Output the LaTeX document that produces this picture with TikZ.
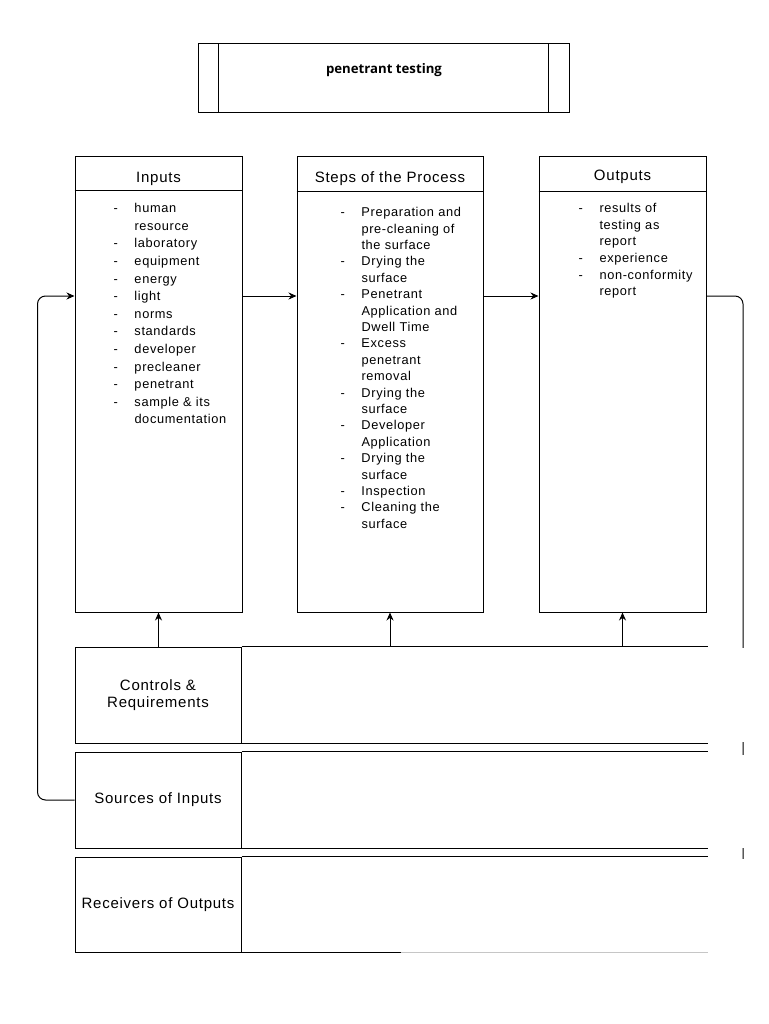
\documentclass[tikz,border=0pt]{standalone}
\usepackage{fontspec}
\setmainfont[LetterSpace=5]{Liberation Sans}
\newfontfamily\titlefont{Open Sans}
\usetikzlibrary{positioning,arrows.meta}
\newcommand{\idash}{\makebox[21pt][l]{-}}
\newcommand{\igap}{\hspace*{21pt}}

\begin{document}
\begin{tikzpicture}[x=1pt,y=-1pt,line width=1pt,>={Stealth[length=8pt,width=7pt]},
  column/.style={draw,minimum height=455pt,inner sep=0pt},
  head/.style={inner sep=0pt,font=\fontsize{15}{17}\selectfont},
  list/.style={anchor=north west,align=left,inner sep=0pt},
  lane/.style={draw,minimum width=166pt,minimum height=96pt,inner sep=2pt,align=center,font=\fontsize{15}{17}\selectfont}]
\useasboundingbox (0,0) rectangle (768,1024);

% title
\node[draw,minimum width=371pt,minimum height=69pt] (title) at (383.5,78.5) {};
\draw ([xshift=21pt]title.north west) -- ([xshift=21pt]title.south west);
\draw ([xshift=-21pt]title.north east) -- ([xshift=-21pt]title.south east);
\node[font=\titlefont\bfseries\fontsize{13.2}{15}\selectfont] (titletext) at (384,70.5) {penetrant testing};

% the three columns
\node[column,minimum width=167pt] (inp) at (158.5,384.5) {};
\node[column,minimum width=186pt] (steps) at (390,384.5) {};
\node[column,minimum width=167pt] (outp) at (622.5,384.5) {};
\draw ([yshift=-34pt]inp.north west) -- ([yshift=-34pt]inp.north east);
\draw ([yshift=-35pt]steps.north west) -- ([yshift=-35pt]steps.north east);
\draw ([yshift=-35pt]outp.north west) -- ([yshift=-35pt]outp.north east);
\node[head] (inphead) at (158.5,179) {Inputs};
\node[head] (stepshead) at (390,179) {Steps of the Process};
\node[head] (outphead) at (622.5,177) {Outputs};

\node[list,font=\fontsize{12.8}{17.6}\selectfont] (inplist) at (113,203)
  {\idash human\\\igap resource\\\idash laboratory\\\idash equipment\\\idash energy\\\idash light\\\idash norms\\\idash standards\\\idash developer\\\idash precleaner\\\idash penetrant\\\idash sample \& its\\\igap documentation};
\node[list,font=\fontsize{12.8}{16.4}\selectfont] (stepslist) at (340,207)
  {\idash Preparation and\\\igap pre-cleaning of\\\igap the surface\\\idash Drying the\\\igap surface\\\idash Penetrant\\\igap Application and\\\igap Dwell Time\\\idash Excess\\\igap penetrant\\\igap removal\\\idash Drying the\\\igap surface\\\idash Developer\\\igap Application\\\idash Drying the\\\igap surface\\\idash Inspection\\\idash Cleaning the\\\igap surface};
\node[list,font=\fontsize{12.8}{16.6}\selectfont] (outplist) at (578,203)
  {\idash results of\\\igap testing as\\\igap report\\\idash experience\\\idash non-conformity\\\igap report};

% flow
\coordinate (flow) at (0,296);
\draw[->] (inp.east |- flow) -- (steps.west |- flow);
\draw[->] (steps.east |- flow) -- (outp.west |- flow);
\coordinate (back) at (743,905);
\draw[rounded corners=8pt] (outp.east |- flow) -| (back);

% swimlanes
\fill[white] (242,648) rectangle (760,742);
\fill[white] (242,755) rectangle (760,848);
\fill[white] (242,859) rectangle (760,960);
\node[lane] (ctl) at (158,695) {Controls \&\\Requirements};
\node[lane] (src) at (158,800) {Sources of Inputs};
\node[lane,minimum height=95pt] (rcv) at (158,904.5) {Receivers of Outputs};
\draw (ctl.north east) -- ++(466,0) (ctl.south east) -- ++(466,0);
\draw (src.north east) -- ++(466,0) (src.south east) -- ++(466,0);
\draw (rcv.north east) -- ++(466,0);
\draw (rcv.south east) -- ++(159,0);
\draw[gray!45] ([xshift=159pt]rcv.south east) -- ++(307,0);

\draw[->] (inp.south |- ctl.north) -- (inp.south);
\draw[->] (steps.south |- ctl.north) -- (steps.south);
\draw[->] (outp.south |- ctl.north) -- (outp.south);
\draw[->,rounded corners=8pt] (src.west) -- ++(-37,0) |- (inp.west |- flow);
\end{tikzpicture}
\end{document}
